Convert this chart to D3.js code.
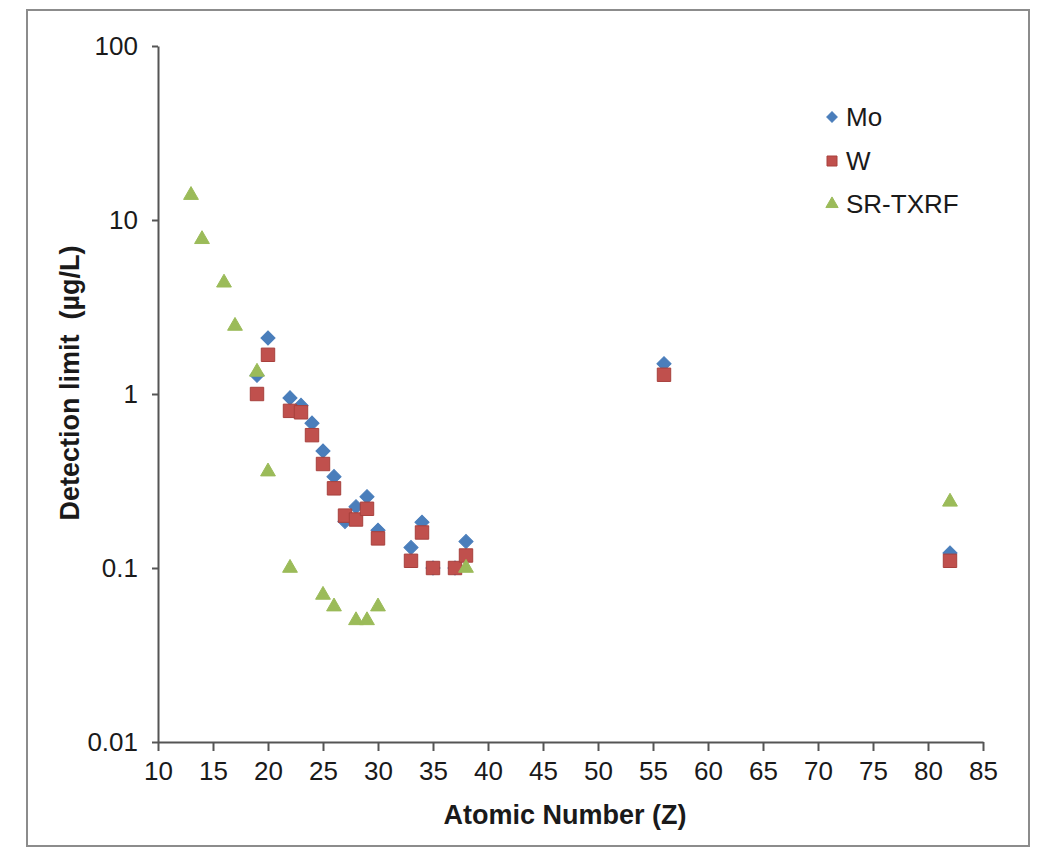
<!DOCTYPE html>
<html>
<head>
<meta charset="utf-8">
<script src="https://cdn.jsdelivr.net/npm/d3@7"></script>
<style>
  body { margin: 0; background: #fff; }
  text { font-family: "Liberation Sans", Arial, sans-serif; fill: #1a1a1a; }
</style>
</head>
<body>
<script>
// data
var moZ   = [19, 20, 22, 23, 24, 25, 26, 27, 28, 29, 30, 33, 34, 35, 37, 38, 56, 82];
var moDL  = [1.28, 2.1, 0.95, 0.86, 0.68, 0.47, 0.335, 0.185, 0.225, 0.257, 0.165, 0.131, 0.183, 0.1, 0.1, 0.142, 1.49, 0.122];
var wZ    = [19, 20, 22, 23, 24, 25, 26, 27, 28, 29, 30, 33, 34, 35, 37, 38, 56, 82];
var wDL   = [1.0, 1.68, 0.8, 0.785, 0.58, 0.396, 0.287, 0.2, 0.19, 0.219, 0.148, 0.11, 0.16, 0.1, 0.1, 0.118, 1.29, 0.11];
var srZ   = [13, 14, 16, 17, 19, 20, 22, 25, 26, 28, 29, 30, 38, 82];
var srDL  = [13.9, 7.75, 4.36, 2.46, 1.34, 0.358, 0.1, 0.07, 0.06, 0.05, 0.05, 0.06, 0.1, 0.24];
var xTicks = [10, 15, 20, 25, 30, 35, 40, 45, 50, 55, 60, 65, 70, 75, 80, 85];
var yTicks = [0.01, 0.1, 1, 10, 100];
var yTickLabels = ["0.01", "0.1", "1", "10", "100"];
var seriesNames = ["Mo", "W", "SR-TXRF"];

var W = 1047, H = 856;
var plotLeft = 158, plotRight = 983, plotTop = 46, plotBottom = 742;

var svg = d3.select("body").append("svg").attr("width", W).attr("height", H);

// outer frame
svg.append("rect").attr("x", 27).attr("y", 10).attr("width", 1002).attr("height", 836)
  .attr("fill", "#fff").attr("stroke", "#8c8c8c").attr("stroke-width", 2);

var x = d3.scaleLinear().domain([10, 85]).range([plotLeft, plotRight]);
var y = d3.scaleLog().domain([0.01, 100]).range([plotBottom, plotTop]);

var xAxis = svg.append("g").attr("transform", "translate(0," + plotBottom + ")")
  .call(d3.axisBottom(x).tickValues(xTicks).tickSizeInner(9).tickSizeOuter(0).tickPadding(11));
var yAxis = svg.append("g").attr("transform", "translate(" + plotLeft + ",0)")
  .call(d3.axisLeft(y).tickValues(yTicks).tickFormat(function (d, i) { return yTickLabels[i]; })
    .tickSizeInner(6).tickSizeOuter(0).tickPadding(14));

[xAxis, yAxis].forEach(function (g) {
  g.select(".domain").attr("stroke", "#555").attr("stroke-width", 2);
  g.selectAll(".tick line").attr("stroke", "#555").attr("stroke-width", 2);
  g.selectAll(".tick text").attr("font-size", 26).attr("fill", "#1a1a1a")
    .style("font-family", "'Liberation Sans', Arial, sans-serif");
});
xAxis.selectAll(".tick text").attr("dy", "0.71em");

// axis titles
svg.append("text").attr("x", 565).attr("y", 824).attr("text-anchor", "middle")
  .attr("font-size", 27).attr("font-weight", "bold").text("Atomic Number (Z)");
svg.append("text").attr("transform", "translate(79,383) rotate(-90)")
  .attr("text-anchor", "middle").attr("font-size", 27).attr("font-weight", "bold")
  .attr("xml:space", "preserve").text("Detection limit  (\u00b5g/L)");

var diamond = d3.symbol().type(d3.symbolSquare).size(100)();
var square = d3.symbol().type(d3.symbolSquare).size(180)();
var triangle = d3.symbol().type(d3.symbolTriangle).size(95)();

var colors = ["#4a7ebb", "#c0504d", "#9bbb59"];

function plotSeries(zs, vals, path, fill, stroke, rot) {
  svg.append("g").selectAll("path").data(zs).enter().append("path")
    .attr("d", path)
    .attr("transform", function (d, i) {
      return "translate(" + x(d) + "," + y(vals[i]) + ")" + (rot ? " rotate(45)" : "");
    })
    .attr("fill", fill).attr("stroke", stroke).attr("stroke-width", 1);
}
plotSeries(moZ, moDL, diamond, colors[0], "#4a7ebb", true);
plotSeries(wZ, wDL, square, colors[1], "#a8403d", false);
plotSeries(srZ, srDL, triangle, colors[2], "#9bbb59", false);

// legend
var legend = svg.append("g");
var legY = [117, 161, 204];
var legPaths = [
  d3.symbol().type(d3.symbolSquare).size(55)(),
  d3.symbol().type(d3.symbolSquare).size(100)(),
  d3.symbol().type(d3.symbolTriangle).size(65)()
];
seriesNames.forEach(function (name, i) {
  legend.append("path").attr("d", legPaths[i])
    .attr("transform", "translate(832," + legY[i] + ")" + (i === 0 ? " rotate(45)" : ""))
    .attr("fill", colors[i]).attr("stroke", i === 1 ? "#a8403d" : colors[i]);
  legend.append("text").attr("x", 846).attr("y", legY[i]).attr("dy", "0.36em")
    .attr("font-size", 26).text(name);
});
</script>
</body>
</html>
